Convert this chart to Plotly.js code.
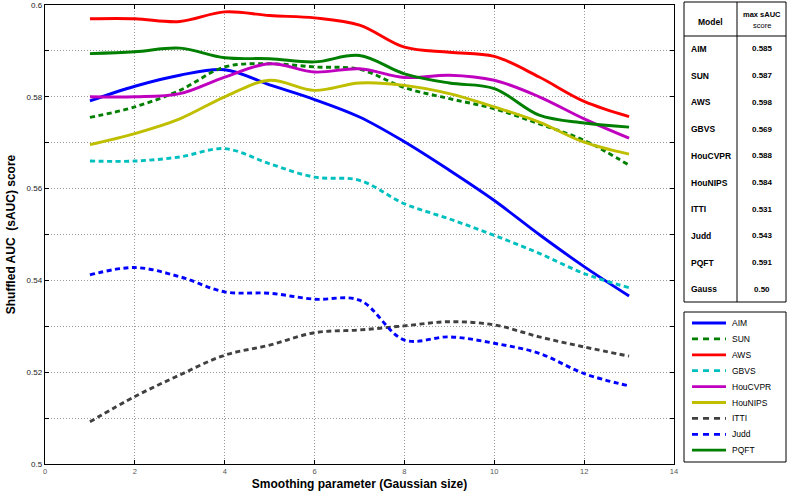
<!DOCTYPE html>
<html>
<head>
<meta charset="utf-8">
<script src="https://cdn.plot.ly/plotly-3.0.1.min.js"></script>
<style>html,body{margin:0;padding:0;background:#fff;}#chart{width:788px;height:491px;}</style>
</head>
<body>
<div id="chart"></div>
<script>
// ---- data ----
const smoothing = [1,2,3,4,5,6,7,8,9,10,11,12,13];
const aim     = [0.5791,0.5823,0.5847,0.5859,0.5826,0.5794,0.5756,0.5702,0.5640,0.5574,0.5500,0.5430,0.5366];
const sun     = [0.5755,0.5778,0.5814,0.5865,0.5872,0.5865,0.5860,0.5820,0.5796,0.5774,0.5741,0.5705,0.5651];
const aws     = [0.5970,0.5970,0.5964,0.5985,0.5977,0.5972,0.5956,0.5908,0.5897,0.5888,0.5843,0.5790,0.5757];
const gbvs    = [0.5660,0.5660,0.5669,0.5687,0.5654,0.5625,0.5618,0.5567,0.5534,0.5498,0.5459,0.5415,0.5384];
const houcvpr = [0.5800,0.5800,0.5807,0.5843,0.5872,0.5854,0.5861,0.5842,0.5847,0.5836,0.5800,0.5752,0.5710];
const hounips = [0.5696,0.5720,0.5752,0.5800,0.5836,0.5814,0.5830,0.5825,0.5807,0.5778,0.5745,0.5701,0.5675];
const itti    = [0.5092,0.5147,0.5194,0.5237,0.5259,0.5286,0.5292,0.5301,0.5310,0.5303,0.5277,0.5255,0.5235];
const judd    = [0.5412,0.5428,0.5408,0.5375,0.5372,0.5359,0.5357,0.5270,0.5277,0.5263,0.5241,0.5197,0.5170];
const pqft    = [0.5894,0.5898,0.5906,0.5885,0.5883,0.5876,0.5890,0.5850,0.5830,0.5818,0.5760,0.5743,0.5734];

const seriesNames = ['AIM','SUN','AWS','GBVS','HouCVPR','HouNIPS','ITTI','Judd','PQFT'];
const seriesValues = [aim, sun, aws, gbvs, houcvpr, hounips, itti, judd, pqft];

const xTickVals = [0,2,4,6,8,10,12,14];
const yTickVals = [0.50,0.51,0.52,0.53,0.54,0.55,0.56,0.57,0.58,0.59,0.60];
const yTickText = ['0.5','','0.52','','0.54','','0.56','','0.58','','0.6'];

const tableModels = ['AIM','SUN','AWS','GBVS','HouCVPR','HouNIPS','ITTI','Judd','PQFT','Gauss'];
const tableScores = ['0.585','0.587','0.598','0.569','0.588','0.584','0.531','0.543','0.591','0.50'];

// ---- styles ----
const styles = {
  AIM:     {color:'#0000ff', dash:'solid'},
  SUN:     {color:'#007f00', dash:'5px,3.5px'},
  AWS:     {color:'#ff0000', dash:'solid'},
  GBVS:    {color:'#00bfbf', dash:'5px,3.5px'},
  HouCVPR: {color:'#bf00bf', dash:'solid'},
  HouNIPS: {color:'#bfbf00', dash:'solid'},
  ITTI:    {color:'#404040', dash:'5px,3.5px'},
  Judd:    {color:'#0000ff', dash:'5px,3.5px'},
  PQFT:    {color:'#007f00', dash:'solid'}
};

const W = 788, H = 491;
const M = {l:45, r:114, t:5, b:27};
const PW = W - M.l - M.r, PH = H - M.t - M.b;
const px = p => (p - M.l) / PW;          // pixel -> paper x
const py = p => (H - M.b - p) / PH;      // pixel -> paper y

const FONT = 'Liberation Sans, Arial, Helvetica, sans-serif';

const traces = seriesNames.map((n, i) => ({
  type:'scatter', mode:'lines', name:n,
  x: smoothing, y: seriesValues[i],
  line:{color:styles[n].color, width:2.9, dash:styles[n].dash, shape:'spline', smoothing:1},
  showlegend:false, hoverinfo:'skip'
}));

const shapes = [];
const annotations = [];

// table
const tL = 684, tR = 786, tT = 2, tB = 302, tDiv = 737, tHead = 36;
shapes.push({type:'rect', xref:'paper', yref:'paper', x0:px(tL), x1:px(tR), y0:py(tB), y1:py(tT), line:{color:'#000', width:1}});
shapes.push({type:'line', xref:'paper', yref:'paper', x0:px(tL), x1:px(tR), y0:py(tHead), y1:py(tHead), line:{color:'#000', width:1}});
shapes.push({type:'line', xref:'paper', yref:'paper', x0:px(tDiv), x1:px(tDiv), y0:py(tB), y1:py(tT), line:{color:'#000', width:1}});
annotations.push({xref:'paper', yref:'paper', x:px((tL+tDiv)/2), y:py(22), text:'<b>Model</b>', showarrow:false, xanchor:'center', yanchor:'middle', font:{family:FONT, size:8.5, color:'#000'}});
annotations.push({xref:'paper', yref:'paper', x:px((tDiv+tR)/2), y:py(15), text:'<b>max sAUC</b>', showarrow:false, xanchor:'center', yanchor:'middle', font:{family:FONT, size:7.5, color:'#000'}});
annotations.push({xref:'paper', yref:'paper', x:px((tDiv+tR)/2), y:py(26), text:'score', showarrow:false, xanchor:'center', yanchor:'middle', font:{family:FONT, size:7.5, color:'#000'}});
tableModels.forEach((m, i) => {
  const yy = 49 + 26.7 * i;
  annotations.push({xref:'paper', yref:'paper', x:px(689), y:py(yy), text:'<b>'+m+'</b>', showarrow:false, xanchor:'left', yanchor:'middle', font:{family:FONT, size:8.5, color:'#000'}});
  annotations.push({xref:'paper', yref:'paper', x:px(762), y:py(yy), text:'<b>'+tableScores[i]+'</b>', showarrow:false, xanchor:'center', yanchor:'middle', font:{family:FONT, size:8, color:'#000'}});
});

// legend
const lL = 684, lR = 786, lT = 312, lB = 462;
shapes.push({type:'rect', xref:'paper', yref:'paper', x0:px(lL), x1:px(lR), y0:py(lB), y1:py(lT), line:{color:'#000', width:1}, fillcolor:'#fff'});
seriesNames.forEach((n, i) => {
  const yy = 323 + 15.9 * i;
  const d = styles[n].dash === 'solid' ? 'solid' : '6px,5px';
  shapes.push({type:'line', xref:'paper', yref:'paper', x0:px(692), x1:px(726), y0:py(yy), y1:py(yy), line:{color:styles[n].color, width:2.8, dash:d}});
  annotations.push({xref:'paper', yref:'paper', x:px(730), y:py(yy), text:n, showarrow:false, xanchor:'left', yanchor:'middle', font:{family:FONT, size:8.5, color:'#000'}});
});

const layout = {
  width:W, height:H,
  margin:{l:M.l, r:M.r, t:M.t, b:M.b, pad:0},
  paper_bgcolor:'#fff', plot_bgcolor:'#fff',
  showlegend:false,
  font:{family:FONT},
  xaxis:{
    range:[0,14], tickvals:xTickVals, ticktext:xTickVals.map(String),
    ticks:'inside', ticklen:4, tickwidth:1, tickcolor:'#000',
    showline:true, mirror:'ticks', linecolor:'#000', linewidth:1.3,
    showgrid:true, gridcolor:'#999', griddash:'1px,2px', gridwidth:1, zeroline:false,
    tickfont:{family:FONT, size:7.5, color:'#555'},
    title:{text:'<b>Smoothing parameter (Gaussian size)</b>', font:{family:FONT, size:12, color:'#000'}, standoff:4}
  },
  yaxis:{
    range:[0.5,0.6], tickvals:yTickVals, ticktext:yTickText,
    ticks:'inside', ticklen:4, tickwidth:1, tickcolor:'#000',
    showline:true, mirror:'ticks', linecolor:'#000', linewidth:1.3,
    showgrid:true, gridcolor:'#999', griddash:'1px,2px', gridwidth:1, zeroline:false,
    tickfont:{family:FONT, size:8, color:'#222'},
    title:{text:'<b>Shuffled AUC\u00a0 (sAUC) score</b>', font:{family:FONT, size:12, color:'#000'}, standoff:8}
  },
  shapes:shapes,
  annotations:annotations
};

Plotly.newPlot('chart', traces, layout, {displayModeBar:false, staticPlot:true});
</script>
</body>
</html>
